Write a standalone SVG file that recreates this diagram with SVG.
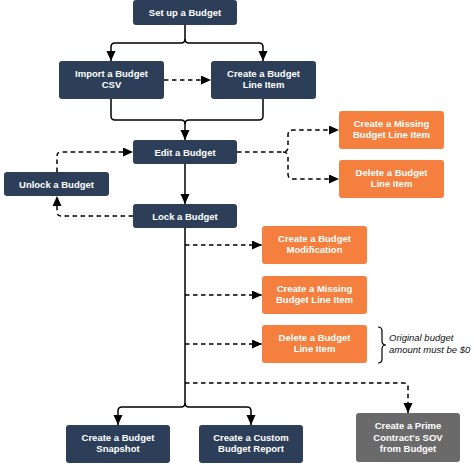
<svg xmlns="http://www.w3.org/2000/svg" width="474" height="464" viewBox="0 0 474 464">
<style>
.n rect{rx:3;ry:3}
.navy{fill:#2d3f58}
.orange{fill:#f47f3e}
.gray{fill:#6a6a6a}
.t{font-family:"Liberation Sans",Arial,sans-serif;font-weight:bold;font-size:9.5px;fill:#fff;text-anchor:middle}
.c path{fill:none;stroke:#000;stroke-width:1.5}
.c .d{stroke-dasharray:4.5 3.5}
.note{font-family:"Liberation Sans",Arial,sans-serif;font-style:italic;font-size:9.5px;fill:#111}
</style>
<defs>
<marker id="a" markerUnits="userSpaceOnUse" markerWidth="12" markerHeight="10" refX="10" refY="4.5" orient="auto">
<path d="M0,0 L10,4.5 L0,9 Z" fill="#000"/>
</marker>
</defs>
<rect width="474" height="464" fill="#fff"/>
<g class="c">
<path d="M185 25 V39 Q185 43 181 43 H115 Q111 43 111 47 V61" marker-end="url(#a)"/>
<path d="M185 39 Q185 43 189 43 H259 Q263 43 263 47 V61" marker-end="url(#a)"/>
<path class="d" d="M164 80 H211" marker-end="url(#a)"/>
<path d="M111 99 V116 Q111 120 115 120 H181 Q185 120 185 124 V140" marker-end="url(#a)"/>
<path d="M263 99 V116 Q263 120 259 120 H189 Q185 120 185 124"/>
<path class="d" d="M237 152 H283 Q288 152 288 147 V135 Q288 130 293 130 H339" marker-end="url(#a)"/>
<path class="d" d="M283 152 Q288 152 288 157 V174 Q288 179 293 179 H339" marker-end="url(#a)"/>
<path d="M185 164 V204" marker-end="url(#a)"/>
<path class="d" d="M133 216 H61 Q57 216 57 212 V196" marker-end="url(#a)"/>
<path class="d" d="M57 172 V156 Q57 152 61 152 H133" marker-end="url(#a)"/>
<path d="M185 228 V403 Q185 407 181 407 H122 Q118 407 118 411 V425" marker-end="url(#a)"/>
<path d="M185 403 Q185 407 189 407 H247 Q251 407 251 411 V425" marker-end="url(#a)"/>
<path class="d" d="M185 245 H262" marker-end="url(#a)"/>
<path class="d" d="M185 295 H262" marker-end="url(#a)"/>
<path class="d" d="M185 344 H262" marker-end="url(#a)"/>
<path class="d" d="M185 383 H404 Q408 383 408 387 V413" marker-end="url(#a)"/>
<path style="stroke-width:1.2" d="M378 327 Q382 327 382 331 V341 Q382 345 386 345 Q382 345 382 349 V359 Q382 363 378 363"/>
</g>
<g id="setup" class="n"><rect class="navy" x="133" y="0" width="104" height="25"/><text class="t" x="185" y="16">Set up a Budget</text></g>
<g id="import" class="n"><rect class="navy" x="59" y="61" width="105" height="38"/><text class="t" x="111.5" y="76.5">Import a Budget</text><text class="t" x="111.5" y="88">CSV</text></g>
<g id="createline" class="n"><rect class="navy" x="211" y="61" width="105" height="38"/><text class="t" x="263.5" y="76.5">Create a Budget</text><text class="t" x="263.5" y="88">Line Item</text></g>
<g id="edit" class="n"><rect class="navy" x="133" y="140" width="104" height="24"/><text class="t" x="185" y="155.5">Edit a Budget</text></g>
<g id="unlock" class="n"><rect class="navy" x="4" y="172" width="105" height="24"/><text class="t" x="56.5" y="187.5">Unlock a Budget</text></g>
<g id="lock" class="n"><rect class="navy" x="133" y="204" width="104" height="24"/><text class="t" x="185" y="219.5">Lock a Budget</text></g>
<g id="missing1" class="n"><rect class="orange" x="339" y="111" width="105" height="38"/><text class="t" x="391.5" y="126.5">Create a Missing</text><text class="t" x="391.5" y="138">Budget Line Item</text></g>
<g id="delete1" class="n"><rect class="orange" x="339" y="160" width="105" height="38"/><text class="t" x="391.5" y="175.5">Delete a Budget</text><text class="t" x="391.5" y="187">Line Item</text></g>
<g id="modification" class="n"><rect class="orange" x="262" y="226" width="105" height="38"/><text class="t" x="314.5" y="241.5">Create a Budget</text><text class="t" x="314.5" y="253">Modification</text></g>
<g id="missing2" class="n"><rect class="orange" x="262" y="276" width="105" height="38"/><text class="t" x="314.5" y="291.5">Create a Missing</text><text class="t" x="314.5" y="303">Budget Line Item</text></g>
<g id="delete2" class="n"><rect class="orange" x="262" y="325" width="105" height="38"/><text class="t" x="314.5" y="340.5">Delete a Budget</text><text class="t" x="314.5" y="352">Line Item</text></g>
<g id="note"><text class="note" x="389" y="341">Original budget</text><text class="note" x="389" y="353">amount must be $0</text></g>
<g id="snapshot" class="n"><rect class="navy" x="66" y="425" width="104" height="38"/><text class="t" x="118" y="440.5">Create a Budget</text><text class="t" x="118" y="452">Snapshot</text></g>
<g id="custom" class="n"><rect class="navy" x="199" y="425" width="104" height="38"/><text class="t" x="251" y="440.5">Create a Custom</text><text class="t" x="251" y="452">Budget Report</text></g>
<g id="prime" class="n"><rect class="gray" x="356" y="413" width="104" height="49"/><text class="t" x="408" y="429">Create a Prime</text><text class="t" x="408" y="440.5">Contract's SOV</text><text class="t" x="408" y="452">from Budget</text></g>
</svg>
